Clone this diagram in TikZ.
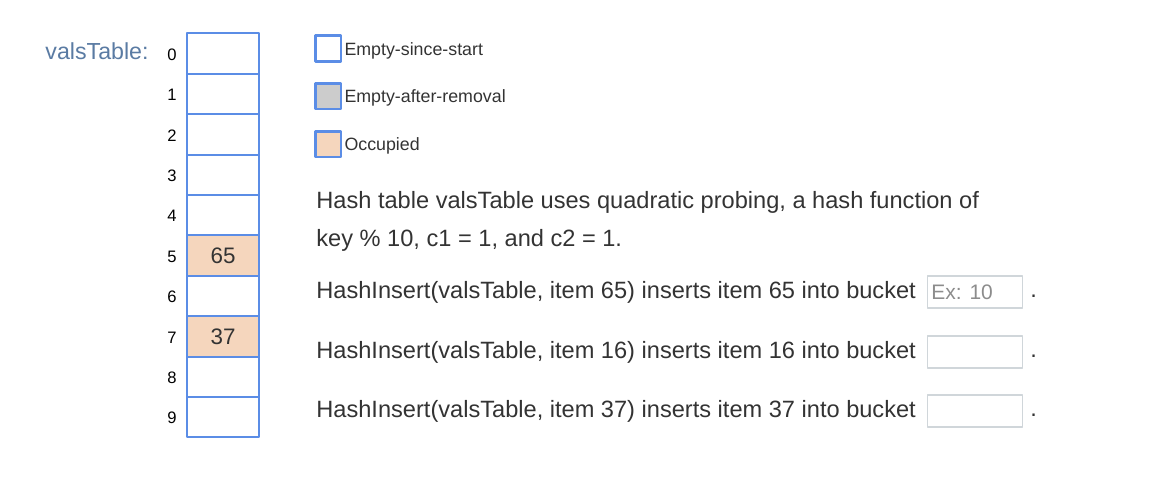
\documentclass[tikz,border=0pt]{standalone}
\usepackage{fontspec}
\setmainfont{Liberation Sans}
\usetikzlibrary{positioning}
\definecolor{cellblue}{HTML}{5B8DE6}
\definecolor{occfill}{HTML}{F5D6BD}
\definecolor{remfill}{HTML}{CCCCCC}
\definecolor{namecol}{HTML}{5A7BA3}
\definecolor{txtcol}{HTML}{333333}
\definecolor{boxgray}{HTML}{D0D6DA}
\tikzset{
  cell/.style={draw=cellblue,line width=1pt,minimum width=36pt,minimum height=20.2pt,inner sep=0pt,text=txtcol,font=\fontsize{11.2}{13}\selectfont},
  idx/.style={inner sep=0pt,font=\fontsize{8.3}{9}\selectfont},
  legbox/.style={draw=cellblue,line width=1.3pt,minimum size=12.8pt,inner sep=0pt},
  legtext/.style={inner sep=0pt,text=txtcol,font=\fontsize{8.9}{10}\selectfont},
  qtext/.style={anchor=west,inner sep=0pt,text=txtcol,font=\fontsize{11.8}{13}\selectfont},
  ansbox/.style={draw=boxgray,line width=0.6pt,minimum width=47.5pt,minimum height=16pt,inner sep=0pt}
}
\begin{document}
\begin{tikzpicture}[x=0.5pt,y=-0.5pt,line join=round]
\useasboundingbox (0,0) rectangle (1170,500);
% table name
\node[anchor=west,inner sep=0pt,text=namecol,font=\fontsize{11.6}{13}\selectfont] (name) at (45,51) {valsTable:};
% buckets
\foreach \i/\v/\f in {0//white,1//white,2//white,3//white,4//white,5/65/occfill,6//white,7/37/occfill,8//white,9//white}{
  \node[cell,fill=\f] (c\i) at (223,53.5+40.4*\i) {\v};
  \node[idx,left=4.5pt of c\i,yshift=-0.5pt] (i\i) {\i};
}
% legend
\node[legbox,fill=white] (l1) at (328,48.5) {};
\node[legtext,anchor=west,right=1pt of l1,yshift=-1pt] (t1) {Empty-since-start};
\node[legbox,fill=remfill] (l2) at (328,96) {};
\node[legtext,anchor=west,right=1pt of l2,yshift=-1pt] (t2) {Empty-after-removal};
\node[legbox,fill=occfill] (l3) at (328,144) {};
\node[legtext,anchor=west,right=1pt of l3,yshift=-1pt] (t3) {Occupied};
% description
\node[qtext] (d1) at (316,202) {Hash table valsTable uses quadratic probing, a hash function of};
\node[qtext] (d2) at (316,240) {key \% 10, c1 = 1, and c2 = 1.};
% questions
\node[qtext] (q1) at (316,292) {HashInsert(valsTable, item 65) inserts item 65 into bucket};
\node[ansbox,anchor=west] (a1) at (927,292) {};
\node[anchor=west,inner sep=0pt,text=gray!90,font=\fontsize{10.5}{12}\selectfont] (ex) at (931,292) {Ex: 10};
\node[qtext] (p1) at (1030,296) {.};
\node[qtext] (q2) at (316,352) {HashInsert(valsTable, item 16) inserts item 16 into bucket};
\node[ansbox,anchor=west] (a2) at (927,352) {};
\node[qtext] (p2) at (1030,356) {.};
\node[qtext] (q3) at (316,411) {HashInsert(valsTable, item 37) inserts item 37 into bucket};
\node[ansbox,anchor=west] (a3) at (927,411) {};
\node[qtext] (p3) at (1030,415) {.};
\end{tikzpicture}
\end{document}
